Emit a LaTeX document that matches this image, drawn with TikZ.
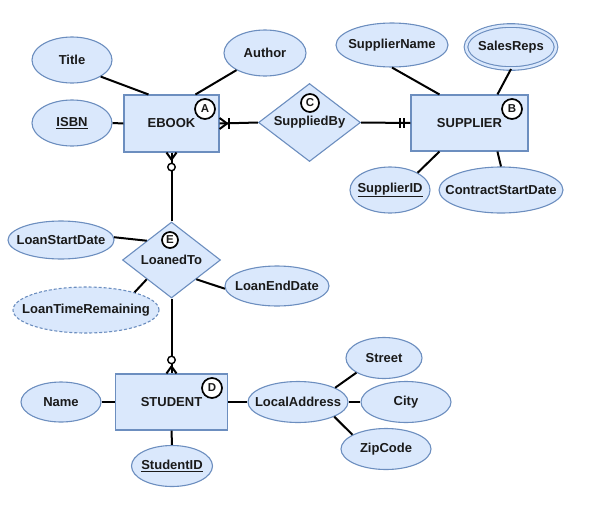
\documentclass[tikz,border=0pt]{standalone}
\usepackage{fontspec}
\setmainfont{Liberation Sans}
\usetikzlibrary{shapes.geometric,calc}
\definecolor{fillc}{HTML}{DAE8FC}
\definecolor{strokec}{HTML}{6C8EBF}
\definecolor{txt}{HTML}{1A1A1A}
\newcommand\zb[1]{\makebox[0pt]{#1}}
\begin{document}
\begin{tikzpicture}[x=1pt,y=-1pt,
  every node/.style={font=\fontsize{13}{15}\selectfont\bfseries, text=txt},
  ent/.style={rectangle, draw=strokec, fill=fillc, line width=1.1pt, inner sep=0pt},
  attr/.style={ellipse, draw=strokec, fill=fillc, line width=1.1pt, inner sep=0pt},
  rel/.style={diamond, draw=strokec, fill=fillc, line width=1.1pt, inner sep=0pt},
  tag/.style={circle, draw=black, fill=white, line width=1.7pt, inner sep=0pt, font=\fontsize{11.5}{12}\selectfont\bfseries},
  ring/.style={circle, draw=black, fill=white, line width=1.4pt, inner sep=0pt, minimum size=7.5pt},
  conn/.style={draw=black, line width=2pt},
]
\useasboundingbox (0,0) rectangle (589,517);

% entities
\node[ent, minimum width=95pt, minimum height=57pt] (ebook) at (171.5,123.5) {\zb{EBOOK}};
\node[ent, minimum width=117pt, minimum height=56pt] (supplier) at (469.5,123) {\zb{SUPPLIER}};
\node[ent, minimum width=112pt, minimum height=56pt] (student) at (171.5,402) {\zb{STUDENT}};

% relationships
\node[rel, minimum width=102pt, minimum height=78pt] (supplied) at (309.5,122.5) {\zb{SuppliedBy}};
\node[rel, minimum width=98pt, minimum height=76pt] (loaned) at (171.5,260) {\zb{LoanedTo}};

% attributes
\node[attr, minimum width=80pt, minimum height=46pt] (title) at (72,60) {\zb{Title}};
\node[attr, minimum width=82pt, minimum height=46pt] (author) at (265,53) {\zb{Author}};
\node[attr, minimum width=80pt, minimum height=46pt] (isbn) at (72,123) {\zb{\underline{ISBN}}};
\node[attr, minimum width=112pt, minimum height=44pt] (sname) at (392,45) {\zb{SupplierName}};
\node[attr, double=fillc, double distance=2.5pt, minimum width=90pt, minimum height=43pt] (sales) at (511,47) {\zb{SalesReps}};
\node[attr, minimum width=80pt, minimum height=46pt] (sid) at (390,190) {\zb{\underline{SupplierID}}};
\node[attr, minimum width=124pt, minimum height=46pt] (csd) at (501,190) {\zb{ContractStartDate}};
\node[attr, minimum width=106pt, minimum height=38pt] (lsd) at (61,240) {\zb{LoanStartDate}};
\node[attr, minimum width=104pt, minimum height=40pt] (led) at (277,286) {\zb{LoanEndDate}};
\node[attr, dashed, dash pattern=on 3pt off 2pt, minimum width=146pt, minimum height=46pt] (ltr) at (86,310) {\zb{LoanTimeRemaining}};
\node[attr, minimum width=80pt, minimum height=40pt] (name) at (61,402) {\zb{Name}};
\node[attr, minimum width=81pt, minimum height=41pt] (stid) at (172,466) {\zb{\underline{StudentID}}};
\node[attr, minimum width=100pt, minimum height=41pt] (laddr) at (298,402) {\zb{LocalAddress}};
\node[attr, minimum width=76pt, minimum height=41pt] (street) at (384,358) {\zb{Street}};
\node[attr, minimum width=90pt, minimum height=41pt] (city) at (406,402) {\zb{City}};
\node[attr, minimum width=90pt, minimum height=41pt] (zip) at (386,449) {\zb{ZipCode}};

% tags
\node[tag, minimum size=20pt] (tA) at (205,109) {A};
\node[tag, minimum size=20pt] (tB) at (512,109) {B};
\node[tag, minimum size=18pt] (tC) at (310,103) {C};
\node[tag, minimum size=20pt] (tD) at (212,388) {D};
\node[tag, minimum size=16pt] (tE) at (170,240) {E};

% attribute connectors
\draw[conn] (title.-30) -- ([xshift=25pt]ebook.north west);
\draw[conn] (author.-149) -- ([xshift=72pt]ebook.north west);
\draw[conn] (isbn.east) -- (ebook.west);
\draw[conn] (sname.south) -- ([xshift=29pt]supplier.north west);
\draw[conn] (sales.south) -- ([xshift=87pt]supplier.north west);
\draw[conn] (sid.32) -- ([xshift=29pt]supplier.south west);
\draw[conn] (csd.north) -- ([xshift=87pt]supplier.south west);
\draw[conn] (lsd.3) -- (loaned.north west);
\draw[conn] (loaned.south east) -- (led.-177);
\draw[conn] (ltr.20) -- (loaned.south west);
\draw[conn] (name.east) -- (student.west);
\draw[conn] (stid.north) -- (student.south);
\draw[conn] (student.east) -- (laddr.west);
\draw[conn] (laddr.21) -- (street.-152);
\draw[conn] (laddr.east) -- (city.west);
\draw[conn] (laddr.-22) -- (zip.157);

% relationship connectors
\draw[conn] (ebook.east) -- (supplied.west);
\draw[conn] ($(ebook.east)+(0,-5.5)$) -- ($(ebook.east)+(7.5,0)$) -- ($(ebook.east)+(0,5.5)$);
\draw[conn] ($(ebook.east)+(9.5,-5.5)$) -- ($(ebook.east)+(9.5,5.5)$);

\draw[conn] (supplied.east) -- (supplier.west);
\draw[conn] ($(supplier.west)+(-10.5,-5)$) -- ($(supplier.west)+(-10.5,5)$);
\draw[conn] ($(supplier.west)+(-6.5,-5)$) -- ($(supplier.west)+(-6.5,5)$);

\draw[conn] (ebook.south) -- (loaned.north);
\draw[conn] ($(ebook.south)+(-5,0)$) -- ($(ebook.south)+(0,7)$) -- ($(ebook.south)+(5,0)$);
\node[ring] (r1) at ($(ebook.south)+(0,14.5)$) {};

\draw[conn] (loaned.south) -- (student.north);
\draw[conn] ($(student.north)+(-5,0)$) -- ($(student.north)+(0,-7)$) -- ($(student.north)+(5,0)$);
\node[ring] (r2) at ($(student.north)+(0,-13.5)$) {};
\end{tikzpicture}
\end{document}
